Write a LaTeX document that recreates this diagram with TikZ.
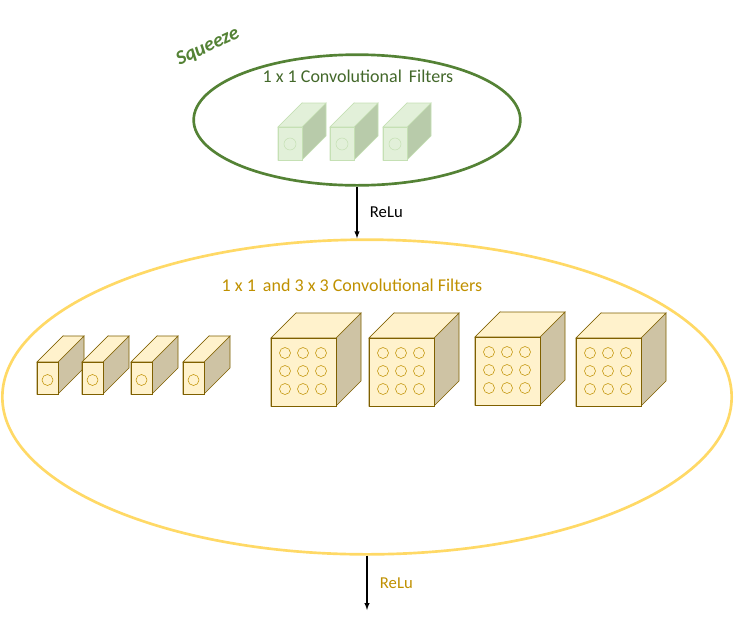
\documentclass[tikz,border=0pt]{standalone}
\usepackage{fontspec}
\setmainfont{Carlito}
\usetikzlibrary{shapes.geometric}
\definecolor{sqline}{HTML}{548235}
\definecolor{sqfill}{HTML}{E2F0D9}
\definecolor{sqside}{HTML}{B8CBAA}
\definecolor{sqedge}{HTML}{C5E0B4}
\definecolor{exline}{HTML}{FFD966}
\definecolor{exfill}{HTML}{FFF2CC}
\definecolor{exside}{HTML}{CEC3A4}
\definecolor{exedge}{HTML}{7F6000}
\definecolor{extext}{HTML}{BF9000}
\definecolor{exdot}{HTML}{BF9000}
% cuboid: x, y (top-left of front), width, height, depth, face fill, side fill, edge
\newcommand{\cuboid}[8]{%
  \filldraw[fill=#6,draw=#8] (#1,#2) -- ++(#5,-#5) -- ++(0,#4) -- ++(-#5,#5) -- cycle;
  \filldraw[fill=#7,draw=#8] (#1+#3,#2) -- ++(#5,-#5) -- ++(0,#4) -- ++(-#5,#5) -- cycle;
  \filldraw[fill=#6,draw=#8] (#1,#2) -- ++(#5,-#5) -- ++(#3,0) -- ++(-#5,#5) -- cycle;
  \filldraw[fill=#6,draw=#8] (#1,#2) rectangle ++(#3,#4);}
\begin{document}
\begin{tikzpicture}[x=0.75pt,y=-0.75pt,
    ring/.style={ellipse,line width=2pt,inner sep=0pt},
    flow/.style={-latex,thick},
    title/.style={font=\fontsize{13.5}{15}\selectfont},
    relu/.style={right=6pt,font=\fontsize{12.5}{14}\selectfont}]
  \useasboundingbox (0,0) rectangle (739,619);
  \node[ring,draw=sqline,minimum width=245pt,minimum height=98pt] (squeeze) at (357,120) {};
  \node[ring,draw=exline,minimum width=547pt,minimum height=236pt] (expand) at (367,397) {};
  \coordinate (out) at (367,610);

  \node[text=sqline,font=\fontsize{15}{17}\bfseries\itshape,rotate=25,inner sep=0pt] (sqlabel) at (208,47) {Squeeze};
  \node[text=sqline!80!black,title] (sqtitle) at (358,76) {1 x 1 Convolutional\, Filters};
  \node[text=extext,title] (extitle) at (352,285) {1 x 1\, and 3 x 3 Convolutional Filters};

  % squeeze filters
  \foreach \x in {278,330,383}{
    \cuboid{\x}{127}{24}{33}{24}{sqfill}{sqside}{sqedge}
    \draw[sqedge] (\x+12,144) circle (6);
  }
  % expand 1x1 filters
  \foreach \x in {37,82,131,183}{
    \cuboid{\x}{362}{21}{32}{26}{exfill}{exside}{exedge}
    \draw[exdot] (\x+10.5,380) circle (5.5);
  }
  % expand 3x3 filters
  \foreach \x/\y in {271/338,369/338,475/337,576/338}{
    \cuboid{\x}{\y}{65}{68}{25}{exfill}{exside}{exedge}
    \foreach \i in {0,1,2}
      \foreach \j in {0,1,2}
        \draw[exdot] (\x+14+\i*18,\y+15+\j*18) circle (5.5);
  }

  \draw[flow] (squeeze.south) -- node[relu] {ReLu} (expand.north-|squeeze.south);
  \draw[flow] (expand.south) -- node[relu,text=extext] {ReLu} (out);
\end{tikzpicture}
\end{document}
